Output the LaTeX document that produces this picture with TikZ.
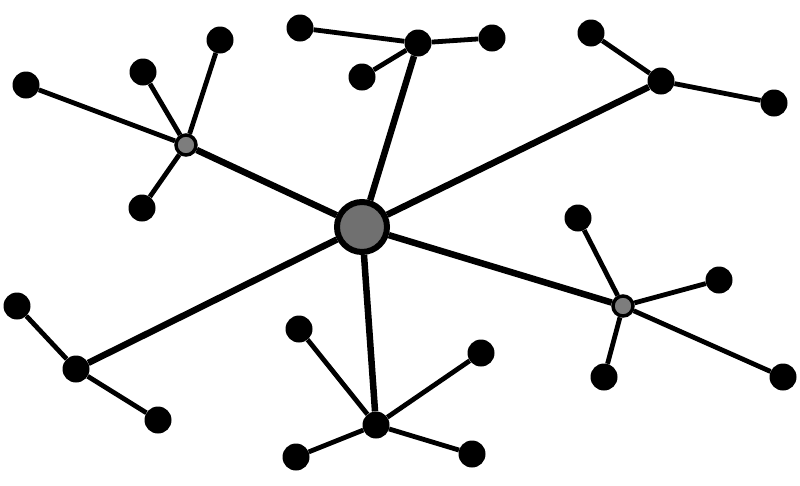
\documentclass[tikz,border=0pt]{standalone}
\usepackage{tikz}
\definecolor{hubgray}{RGB}{112,112,112}
\definecolor{subgray}{RGB}{125,125,125}
\begin{document}
\begin{tikzpicture}[x=1pt,y=-1pt]
\tikzstyle{leaf}=[circle, inner sep=0pt, minimum size=27pt, fill=black]
\tikzstyle{hub}=[circle, inner sep=0pt, minimum size=27pt, fill=black]
\tikzstyle{subhub}=[circle, inner sep=0pt, minimum size=20pt, line width=3.5pt, draw=black, fill=subgray]
\tikzstyle{core}=[circle, inner sep=0pt, minimum size=50pt, line width=6pt, draw=black, fill=hubgray]
\tikzstyle{trunk}=[line width=6.5pt]
\tikzstyle{twig}=[line width=4.8pt]
\useasboundingbox (0,0) rectangle (800,485);
	\node[core] (c) at (362,227) {};
	% hubs
	\node[subhub] (h_1) at (186,145) {};
	\node[hub] (h_2) at (418,43) {};
	\node[hub] (h_3) at (661,81) {};
	\node[subhub] (h_4) at (623,306) {};
	\node[hub] (h_5) at (376,425) {};
	\node[hub] (h_6) at (76,369) {};
	% leaves
	\node[leaf] (l_11) at (26,85) {};
	\node[leaf] (l_12) at (143,72) {};
	\node[leaf] (l_13) at (220,40) {};
	\node[leaf] (l_14) at (142,208) {};
	\node[leaf] (l_21) at (300,28) {};
	\node[leaf] (l_22) at (492,38) {};
	\node[leaf] (l_23) at (362,77) {};
	\node[leaf] (l_31) at (591,33) {};
	\node[leaf] (l_32) at (774,103) {};
	\node[leaf] (l_41) at (578,218) {};
	\node[leaf] (l_42) at (719,280) {};
	\node[leaf] (l_43) at (604,377) {};
	\node[leaf] (l_44) at (783,377) {};
	\node[leaf] (l_51) at (299,329) {};
	\node[leaf] (l_52) at (481,353) {};
	\node[leaf] (l_53) at (296,457) {};
	\node[leaf] (l_54) at (472,454) {};
	\node[leaf] (l_61) at (17,306) {};
	\node[leaf] (l_62) at (158,420) {};

	\path[trunk]
		(c) edge [] (h_1)
		(c) edge [] (h_2)
		(c) edge [] (h_3)
		(c) edge [] (h_4)
		(c) edge [] (h_5)
		(c) edge [] (h_6);
	\path[twig]
		(h_1) edge [] (l_11)
		(h_1) edge [] (l_12)
		(h_1) edge [] (l_13)
		(h_1) edge [] (l_14)
		(h_2) edge [] (l_21)
		(h_2) edge [] (l_22)
		(h_2) edge [] (l_23)
		(h_3) edge [] (l_31)
		(h_3) edge [] (l_32)
		(h_4) edge [] (l_41)
		(h_4) edge [] (l_42)
		(h_4) edge [] (l_43)
		(h_4) edge [] (l_44)
		(h_5) edge [] (l_51)
		(h_5) edge [] (l_52)
		(h_5) edge [] (l_53)
		(h_5) edge [] (l_54)
		(h_6) edge [] (l_61)
		(h_6) edge [] (l_62);
\end{tikzpicture}
\end{document}
